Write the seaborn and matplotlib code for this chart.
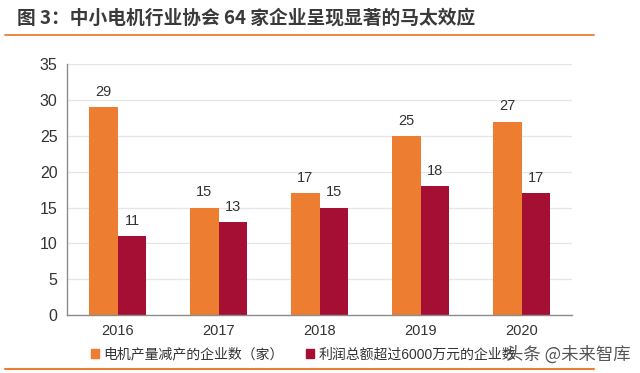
import pandas as pd
import matplotlib.pyplot as plt
import seaborn as sns
from matplotlib.patches import Patch
from matplotlib.lines import Line2D

# Data
years = ["2016", "2017", "2018", "2019", "2020"]
reduced = [29, 15, 17, 25, 27]
high_profit = [11, 13, 15, 18, 17]
series_names = ["电机产量减产的企业数（家）", "利润总额超过6000万元的企业数"]
colors = ["#ED7D31", "#A50F33"]

df = pd.DataFrame({
    "year": years * 2,
    "count": reduced + high_profit,
    "series": [series_names[0]] * len(years) + [series_names[1]] * len(years),
})

sns.set_style("white")
plt.rcParams['font.family'] = ['Liberation Sans', 'Noto Sans CJK SC']

fig = plt.figure(figsize=(6.4, 3.73), dpi=100)
ax = fig.add_axes([0.105, 0.155, 0.789, 0.673])

sns.barplot(data=df, x="year", y="count", hue="series", palette=colors,
            width=0.565, saturation=1, linewidth=0, ax=ax, legend=False)

for cont in ax.containers:
    ax.bar_label(cont, padding=6, fontsize=10.5, color="#333333")

ax.set_ylim(0, 35)
ax.set_yticks(range(0, 36, 5))
ax.set_xlim(-0.5, 4.5)
ax.set_xlabel("")
ax.set_ylabel("")
ax.yaxis.grid(True, color="#E6E6E6", linewidth=0.9)
ax.set_axisbelow(True)
for side in ["top", "right"]:
    ax.spines[side].set_visible(False)
for side in ["left", "bottom"]:
    ax.spines[side].set_color("#8C8C8C")
    ax.spines[side].set_linewidth(1.0)

# x ticks between categories, labels at centres
ax.set_xticks([i + 0.5 for i in range(-1, 5)], minor=False)
ax.set_xticklabels([])
ax.set_xticks(range(5), minor=True)
ax.set_xticklabels(years, minor=True)
ax.tick_params(axis="x", which="major", direction="out", length=4, color="#8C8C8C")
ax.tick_params(axis="x", which="minor", length=0, labelsize=10.5, labelcolor="#333333", pad=6)
ax.tick_params(axis="y", direction="out", length=4, color="#8C8C8C", labelsize=11.5,
               labelcolor="#333333", pad=3)

# title and rules
fig.text(0.027, 0.952, "图 3：中小电机行业协会 64 家企业呈现显著的马太效应",
         fontsize=13.5, fontweight="bold", color="#3A3A3A",
         family=["Noto Sans CJK SC"], va="center")
fig.add_artist(Line2D([0.008, 0.928], [0.906, 0.906], color="#ED7D31", linewidth=1.3))
fig.add_artist(Line2D([0.008, 0.928], [0.011, 0.011], color="#ED7D31", linewidth=1.5))

handles = [Patch(color=c) for c in colors]
fig.legend(handles, series_names, loc="center left", bbox_to_anchor=(0.122, 0.05),
           ncol=2, frameon=False, fontsize=10, handlelength=0.6, handleheight=0.6,
           handletextpad=0.3, columnspacing=1.6, labelcolor="#333333")

fig.text(0.985, 0.05, "头条 @未来智库", fontsize=12.5, color="#555555",
         ha="right", va="center", family=["Noto Sans CJK SC"])

fig.savefig("out.png", dpi=100)
